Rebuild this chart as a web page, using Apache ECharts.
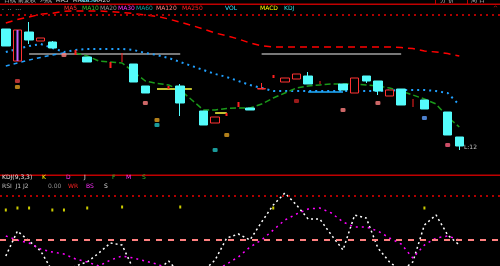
<!DOCTYPE html>
<html>
<head>
<meta charset="utf-8">
<script src="https://cdn.jsdelivr.net/npm/echarts@6/dist/echarts.min.js"></script>
<style>
html,body{margin:0;padding:0;background:#000;}
#main{width:500px;height:266px;}
</style>
</head>
<body>
<div id="main"></div>
<script>
// K线数据 [open, close, low, high]
var days = [];
for (var d = 1; d <= 43; d++) days.push('D' + d);

var kline = [
  [18.80,17.95,17.95,18.80],[17.20,18.75,17.20,18.75],[18.65,18.25,18.05,19.15],[18.20,18.35,18.20,18.35],
  [18.15,17.85,17.85,18.20],'-','-',[17.40,17.15,17.15,17.40],
  '-','-','-',[17.05,16.15,16.15,17.05],
  [15.95,15.60,15.60,15.95],'-','-',[15.95,15.10,14.45,16.05],
  '-',[14.70,14.00,14.00,14.70],[14.10,14.40,14.10,14.40],'-',
  '-',[14.85,14.75,14.75,14.85],[15.80,15.82,15.80,16.10],'-',
  [16.15,16.35,16.15,16.35],[16.30,16.55,16.30,16.55],[16.45,16.05,16.05,16.65],'-',
  '-',[16.05,15.75,15.75,16.05],[15.60,16.35,15.60,16.35],[16.45,16.20,16.10,16.45],
  [16.20,15.70,15.50,16.20],[15.45,15.75,15.45,15.75],[15.80,15.00,15.00,15.80],'-',
  [15.25,14.80,14.80,15.25],'-',[14.65,13.50,13.50,14.65],[13.40,12.95,12.75,13.40],
  '-','-','-'
];

// 红色细线
var ticks = [
  '-','-','-','-','-','-',[17.50,17.75,17.50,17.75],'-',
  '-',[16.85,17.15,16.85,17.15],[17.15,17.60,17.15,17.60],'-',
  '-','-',[15.80,15.95,15.80,15.95],'-','-','-','-',[14.45,14.60,14.45,14.60],
  [14.90,15.15,14.90,15.15],'-','-',[16.35,16.50,16.35,16.50],'-','-','-',[16.05,16.20,16.05,16.20],
  '-','-','-','-','-','-','-',[14.90,15.30,14.90,15.30],'-','-','-','-','-','-','-'
];
// 紫色细线
var purpleBar = ['-',[17.20,18.75,17.20,18.75]];

var maRed = [19.10,19.28,19.40,19.54,19.59,19.69,19.70,19.70,19.70,19.67,19.63,19.57,19.50,19.43,19.30,19.14,
  18.98,18.80,18.60,18.46,18.30,18.10,17.96,17.90,17.90,17.90,17.90,17.90,17.90,17.90,17.90,17.90,17.90,17.90,
  17.87,17.82,17.70,17.65,17.57,17.45,'-','-','-'];
var maBlue = [17.65,17.80,17.95,18.05,17.85,17.65,17.75,17.80,17.80,17.80,17.80,17.75,17.60,17.50,17.35,17.15,
  16.95,16.75,16.55,16.40,16.20,16.00,15.85,15.70,15.70,15.70,15.70,15.70,15.70,15.70,15.70,15.70,15.70,15.72,
  15.75,15.75,15.75,15.70,15.60,15.00,'-','-','-'];
var maBlue2 = [16.95,17.10,17.25,17.38,17.50,17.60,'-','-','-','-','-','-','-','-','-','-','-','-','-','-','-','-',
  '-','-','-','-','-','-','-','-','-','-','-','-','-','-','-','-','-','-','-','-','-'];
var maGreen = ['-','-','-','-','-','-',17.60,17.45,17.20,17.15,17.10,16.65,16.20,16.08,16.00,15.75,
  15.25,14.75,14.75,14.83,14.85,14.85,15.05,15.35,15.60,15.85,15.95,16.00,16.05,16.05,16.05,16.00,15.95,15.85,
  15.70,15.50,15.30,15.05,14.40,13.90,'-','-','-'];
var grayLine = ['-','-',17.55,17.55,17.55,17.55,17.55,17.55,17.55,17.55,17.55,17.55,17.55,17.55,17.55,17.55,
  '-','-','-','-','-','-',17.55,17.55,17.55,17.55,17.55,17.55,17.55,17.55,17.55,17.55,17.55,17.55,17.55,
  '-','-','-','-','-','-','-','-'];
var yellowLine = ['-','-','-','-','-','-','-','-','-','-','-','-','-',15.80,15.80,15.80,15.80,'-',14.60,14.60,
  '-','-','-','-','-','-','-','-','-','-','-','-','-','-','-','-','-','-','-','-','-','-','-'];
var cyanLine = ['-','-','-','-','-','-','-','-','-','-','-','-','-','-','-','-','-','-','-','-','-','-','-','-',
  '-','-',15.65,15.65,15.65,15.65,'-','-','-','-','-','-','-','-','-','-','-','-','-'];

// 信号点 [index, price, color]
var marks = [
  [1,16.20,'#e04040'],[1,15.90,'#e0a020'],[5,17.50,'#ff8080'],[12,15.10,'#ff8080'],
  [13,14.25,'#e0a020'],[13,14.00,'#20c0c0'],[18,12.75,'#20c0c0'],[19,13.50,'#e0a020'],
  [25,15.20,'#c02020'],[29,14.75,'#ff8080'],[32,15.10,'#ff8080'],[36,14.35,'#60a0ff'],[38,13.00,'#ff6080']
];

// 副图
var oscWhite = [10,35,25,15,-5,-8,0,4,13,23,21,-4,-10,-5,5,-8,-10,-5,6,28,32,26,44,61,73,61,47,47,31,16,
  51,48,18,4,-5,4,41,51,31,21,'-','-','-'];
var oscPink = [30,26,23,17,14,12,7,4,0,6,10,8,5,2,-3,-5,-5,-5,-5,2,9,19,26,36,46,52,57,58,53,44,
  39,39,35,28,22,8,21,28,30,26,'-','-','-'];
var yellowDots = [[0,56],[1,58],[2,58],[4,56],[5,56],[7,58],[10,59],[15,59],[23,58],[36,58]];

var chart = echarts.init(document.getElementById('main'), null, {renderer: 'canvas'});

function t(x, y, s, c) {
  return {type: 'text', left: x, top: y, silent: true,
    style: {text: s, fill: c, font: '6px "DejaVu Sans"'}};
}

var option = {
  backgroundColor: '#000',
  animation: false,
  grid: [
    {left: 0, width: 504, top: 5, height: 170},
    {left: 0, width: 504, top: 190, height: 76}
  ],
  xAxis: [
    {type: 'category', data: days, gridIndex: 0, boundaryGap: true, show: false},
    {type: 'category', data: days, gridIndex: 1, boundaryGap: true, show: false}
  ],
  yAxis: [
    {type: 'value', gridIndex: 0, min: 11.5, max: 20, show: false, splitLine: {show: false}},
    {type: 'value', gridIndex: 1, min: 0, max: 76, show: false, splitLine: {show: false}}
  ],
  series: [
    {type: 'line', data: grayLine, symbol: 'none', lineStyle: {color: '#a0a0a0', width: 1.5}, z: 1,
      markLine: {silent: true, symbol: 'none', label: {show: false},
        lineStyle: {color: '#b00000', type: [2, 4], width: 2}, data: [{yAxis: 19.5}]}},
    {type: 'line', data: yellowLine, symbol: 'none', lineStyle: {color: '#ffff40', width: 1.5}, z: 1},
    {type: 'line', data: cyanLine, symbol: 'none', lineStyle: {color: '#20b0ff', width: 1.5}, z: 1},
    {type: 'line', data: maRed, symbol: 'none', lineStyle: {color: '#ff0000', width: 1.5, type: [7, 5]}, z: 2},
    {type: 'line', data: maBlue, symbol: 'none', lineStyle: {color: '#20a0ff', width: 2, type: [2, 4]}, z: 2},
    {type: 'line', data: maBlue2, symbol: 'none', lineStyle: {color: '#20a0ff', width: 1.5, type: [4, 4]}, z: 2},
    {type: 'line', data: maGreen, symbol: 'none', lineStyle: {color: '#1a9a1a', width: 1.5, type: [6, 3]}, z: 2},
    {type: 'candlestick', data: kline, barWidth: 9, z: 3,
      itemStyle: {color: '#000', color0: '#54fcfc', borderColor: '#ff3232', borderColor0: '#54fcfc', borderWidth: 1}},
    {type: 'candlestick', data: ticks, barWidth: 2, z: 4,
      itemStyle: {color: '#ff2020', color0: '#ff2020', borderColor: '#ff2020', borderColor0: '#ff2020', borderWidth: 0}},
    {type: 'candlestick', data: purpleBar, barWidth: 2, z: 4,
      itemStyle: {color: '#c060ff', color0: '#c060ff', borderColor: '#c060ff', borderColor0: '#c060ff', borderWidth: 0}},
    {type: 'scatter', data: marks.map(function (m) { return [m[0], m[1]]; }), symbol: 'roundRect', symbolSize: [5, 4], z: 4,
      itemStyle: {color: function (p) { return marks[p.dataIndex][2]; }}},
    {type: 'line', xAxisIndex: 1, yAxisIndex: 1, data: oscWhite, symbol: 'none',
      lineStyle: {color: '#ffffff', width: 1.5, type: [2, 3]},
      markLine: {silent: true, symbol: 'none', label: {show: false}, data: [
        {yAxis: 70, lineStyle: {color: '#b00000', type: [2, 4], width: 2}},
        {yAxis: 26, lineStyle: {color: '#ff8080', type: [6, 6], width: 2}}
      ]}},
    {type: 'line', xAxisIndex: 1, yAxisIndex: 1, data: oscPink, symbol: 'none',
      lineStyle: {color: '#ff00ff', width: 1.5, type: [2, 4]}},
    {type: 'scatter', xAxisIndex: 1, yAxisIndex: 1, data: yellowDots, symbol: 'rect', symbolSize: [2, 3],
      itemStyle: {color: '#ffff00'}}
  ],
  graphic: [
    {type: 'rect', shape: {x: 0, y: 3.5, width: 500, height: 1.5}, style: {fill: '#c00000'}, silent: true},
    {type: 'rect', shape: {x: 0, y: 174.5, width: 500, height: 1.5}, style: {fill: '#c00000'}, silent: true},
    {type: 'rect', shape: {x: 435, y: 0, width: 1, height: 4}, style: {fill: '#c00000'}, silent: true},
    {type: 'rect', shape: {x: 467, y: 0, width: 1, height: 4}, style: {fill: '#c00000'}, silent: true},
    t(4, -3, '日线 前复权  均线  MA5  MA10  MA20', '#d0d0d0'),
    t(80, -3, 'MA30', '#40e0ff'),
    t(440, -3, '分 价', '#d0d0d0'),
    t(471, -3, '周 日', '#d0d0d0'),
    t(2, 5, '.  ..  ...', '#c0c0c0'),
    t(64, 5, 'MA5', '#ff3030'),
    t(82, 5, 'MA10', '#30c030'),
    t(100, 5, 'MA20', '#909090'),
    t(118, 5, 'MA30', '#ff30ff'),
    t(136, 5, 'MA60', '#10a0a0'),
    t(156, 5, 'MA120', '#ff8080'),
    t(182, 5, 'MA250', '#ff2020'),
    t(225, 5, 'VOL', '#30e0ff'),
    t(260, 5, 'MACD', '#ffff00'),
    t(284, 5, 'KDJ', '#30e0e0'),
    t(493, 5, '^', '#ff2020'),
    t(464, 144, 'L:12', '#c0c0c0'),
    t(2, 174, 'KDJ(9,3,3)', '#e0e0e0'),
    t(42, 174, 'K', '#ffff00'),
    t(66, 174, 'D', '#ff30ff'),
    t(84, 174, 'J', '#e0e0e0'),
    t(112, 174, 'F', '#30c030'),
    t(126, 174, 'M', '#ff30ff'),
    t(142, 174, 'S', '#30c030'),
    t(2, 183, 'RSI  J1 J2', '#c0c0c0'),
    t(48, 183, '0.00', '#909090'),
    t(68, 183, 'WR', '#ff2020'),
    t(86, 183, 'BS', '#ff30ff'),
    t(104, 183, 'S', '#e0e0e0')
  ]
};
chart.setOption(option);
</script>
</body>
</html>
